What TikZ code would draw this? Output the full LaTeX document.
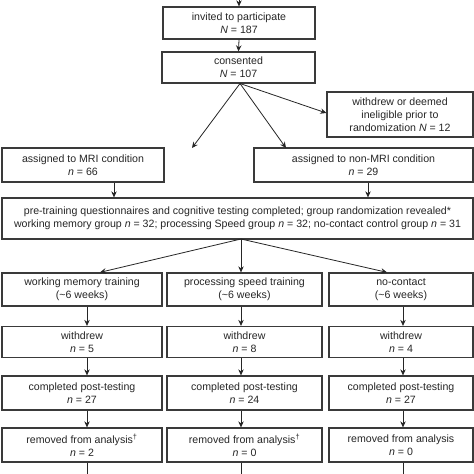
\documentclass[tikz,border=0pt]{standalone}
\usepackage{fontspec}
\setmainfont{Liberation Sans}
\usetikzlibrary{arrows.meta}
\definecolor{edge}{HTML}{3A3A3A}
\begin{document}
\begin{tikzpicture}[x=1pt,y=-1pt,
  box/.style={draw=edge,line width=1.3pt,fill=white,inner sep=0pt,align=center,
    font=\fontsize{10.6}{13}\selectfont,text=black!85},
  arr/.style={draw=black!85,line width=0.8pt,-{Stealth[length=6pt,width=5.5pt]}},
  ln/.style={draw=black!85,line width=0.8pt}]
\useasboundingbox (0,0) rectangle (474,474);
\fill[white] (0,0) rectangle (474,474);
\node[box,minimum width=152pt,minimum height=32pt] (inv) at (239,23) {invited to participate\\\textit{N} = 187};
\node[box,minimum width=153pt,minimum height=31pt] (con) at (238.5,67.5) {consented\\\textit{N} = 107};
\node[box,minimum width=146pt,minimum height=45pt] (wd0) at (400,114.5) {withdrew or deemed\\ineligible prior to\\randomization \textit{N} = 12};
\node[box,minimum width=162pt,minimum height=34pt] (mri) at (83,165) {assigned to MRI condition\\\textit{n} = 66};
\node[box,minimum width=219pt,minimum height=34pt] (nmri) at (363.5,165) {assigned to non-MRI condition\\\textit{n} = 29};
\node[box,minimum width=471pt,minimum height=41pt] (pre) at (237.5,218.5) {pre-training questionnaires and cognitive testing completed; group randomization revealed*\\working memory group \textit{n} = 32; processing Speed group \textit{n} = 32; no-contact control group \textit{n} = 31};
\node[box,minimum width=160pt,minimum height=33pt] (wm) at (82,289.5) {working memory training\\(\textasciitilde6 weeks)};
\node[box,minimum width=155pt,minimum height=33pt] (ps) at (244.5,289.5) {processing speed training\\(\textasciitilde6 weeks)};
\node[box,minimum width=144pt,minimum height=33pt] (nc) at (401,289.5) {no-contact\\(\textasciitilde6 weeks)};
\node[box,minimum width=160pt,minimum height=31pt] (wm1) at (82,342) {withdrew\\\textit{n} = 5};
\node[box,minimum width=155pt,minimum height=31pt] (ps1) at (244.5,342) {withdrew\\\textit{n} = 8};
\node[box,minimum width=144pt,minimum height=31pt] (nc1) at (401,342) {withdrew\\\textit{n} = 4};
\node[box,minimum width=160pt,minimum height=34pt] (wm2) at (82,393) {completed post-testing\\\textit{n} = 27};
\node[box,minimum width=155pt,minimum height=34pt] (ps2) at (244.5,393) {completed post-testing\\\textit{n} = 24};
\node[box,minimum width=144pt,minimum height=34pt] (nc2) at (401,393) {completed post-testing\\\textit{n} = 27};
\node[box,minimum width=160pt,minimum height=34pt] (wm3) at (82,445) {removed from analysis\textsuperscript{\dag}\\\textit{n} = 2};
\node[box,minimum width=155pt,minimum height=34pt] (ps3) at (244.5,445) {removed from analysis\textsuperscript{\dag}\\\textit{n} = 0};
\node[box,minimum width=144pt,minimum height=34pt] (nc3) at (401,445) {removed from analysis\\\textit{n} = 0};
\coordinate (top) at (239,-1);
\coordinate (cb) at (240,83.5);
\coordinate (pb) at (241,239);
\coordinate (ewm) at (87,474);
\coordinate (eps) at (241,474);
\coordinate (enc) at (403,482);
\draw[arr] (top) -- (inv.north);
\draw[arr] (inv.south) -- (con.north);
\draw[arr] (cb) -- (192,148);
\draw[arr] (cb) -- (286,148);
\draw[arr] (cb) -- (wd0.west |- 0,113);
\draw[arr] (mri.south -| 114,0) -- (pre.north -| 114,0);
\draw[arr] (nmri.south -| 368,0) -- (pre.north -| 368,0);
\draw[arr] (pb) -- (wm.north -| 100,0);
\draw[arr] (pb) -- (ps.north -| 241,0);
\draw[arr] (pb) -- (nc.north -| 387,0);
\foreach \a/\b/\x in {wm/wm1/87,wm1/wm2/87,wm2/wm3/87,ps/ps1/241,ps1/ps2/241,ps2/ps3/241,nc/nc1/403,nc1/nc2/403,nc2/nc3/403}{
  \draw[arr] (\a.south -| \x,0) -- (\b.north -| \x,0);
}
\draw[ln] (wm3.south -| ewm) -- (ewm);
\draw[ln] (ps3.south -| eps) -- (eps);
\draw[arr] (nc3.south -| enc) -- (enc);
\end{tikzpicture}
\end{document}
